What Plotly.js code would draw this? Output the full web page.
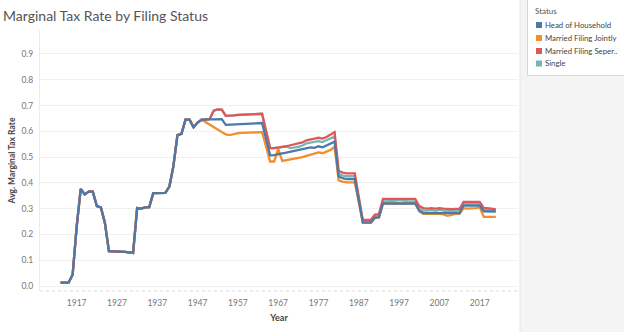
<!DOCTYPE html>
<html>
<head>
<meta charset="utf-8">
<script src="https://cdn.plot.ly/plotly-3.0.1.min.js"></script>
<style>html,body{margin:0;padding:0;background:#fff;}#chart{width:624px;height:332px;}</style>
</head>
<body>
<div id="chart"></div>
<script>
// ---------- DATA ----------
const startYear = 1913;
const endYear = 2021;
const seriesNames = ["Head of Household", "Married Filing Jointly", "Married Filing Seperately", "Single"];
const legendLabels = ["Head of Household", "Married Filing Jointly", "Married Filing Seper..", "Single"];
const seriesColors = ["#4e79a7", "#f28e2b", "#e15759", "#76b7b2"];
const xTickYears = [1917, 1927, 1937, 1947, 1957, 1967, 1977, 1987, 1997, 2007, 2017];
const yTickVals = [0.0, 0.1, 0.2, 0.3, 0.4, 0.5, 0.6, 0.7, 0.8, 0.9];

// values 1913..2021
const headOfHousehold = [
  0.013,0.013,0.013,0.045,0.23,0.377,0.355,0.366,0.366,0.31,          // 1913-1922
  0.305,0.245,0.135,0.134,0.134,0.133,0.132,0.13,0.128,0.302,         // 1923-1932
  0.30,0.305,0.306,0.36,0.36,0.36,0.361,0.386,0.465,0.585,            // 1933-1942
  0.59,0.645,0.645,0.616,0.634,0.645,0.645,0.645,0.646,0.647,         // 1943-1952
  0.647,0.625,0.626,0.627,0.628,0.629,0.63,0.63,0.631,0.632,          // 1953-1962
  0.632,0.57,0.507,0.508,0.51,0.514,0.517,0.521,0.523,0.526,          // 1963-1972
  0.53,0.535,0.538,0.536,0.542,0.538,0.545,0.552,0.56,0.425,          // 1973-1982
  0.418,0.415,0.415,0.415,0.33,0.246,0.246,0.246,0.265,0.266,         // 1983-1992
  0.32,0.32,0.32,0.32,0.32,0.32,0.32,0.32,0.32,0.292,                 // 1993-2002
  0.283,0.283,0.283,0.283,0.283,0.283,0.283,0.283,0.283,0.283,        // 2003-2012
  0.312,0.312,0.312,0.312,0.312,0.29,0.29,0.29,0.289                  // 2013-2021
];
const marriedJointly = [
  0.013,0.013,0.013,0.045,0.23,0.377,0.355,0.366,0.366,0.31,
  0.305,0.245,0.135,0.134,0.134,0.133,0.132,0.13,0.128,0.302,
  0.30,0.305,0.306,0.36,0.36,0.36,0.361,0.386,0.465,0.585,
  0.59,0.645,0.645,0.616,0.634,0.645,0.635,0.625,0.615,0.605,
  0.596,0.588,0.585,0.59,0.593,0.594,0.595,0.595,0.596,0.597,
  0.597,0.54,0.483,0.483,0.532,0.485,0.488,0.49,0.494,0.497,
  0.50,0.505,0.51,0.512,0.518,0.515,0.52,0.528,0.54,0.41,
  0.405,0.402,0.402,0.402,0.325,0.246,0.246,0.246,0.265,0.266,
  0.32,0.32,0.32,0.32,0.32,0.32,0.32,0.32,0.32,0.29,
  0.28,0.28,0.281,0.28,0.28,0.278,0.272,0.276,0.28,0.28,
  0.302,0.30,0.30,0.302,0.305,0.268,0.268,0.268,0.268
];
const marriedSeparately = [
  0.013,0.013,0.013,0.045,0.23,0.377,0.355,0.366,0.366,0.31,
  0.305,0.245,0.135,0.134,0.134,0.133,0.132,0.13,0.128,0.302,
  0.30,0.305,0.306,0.36,0.36,0.36,0.361,0.386,0.465,0.585,
  0.59,0.645,0.645,0.616,0.634,0.645,0.645,0.648,0.68,0.685,
  0.684,0.66,0.66,0.662,0.664,0.665,0.666,0.666,0.667,0.668,
  0.668,0.60,0.535,0.535,0.537,0.54,0.542,0.546,0.55,0.553,
  0.557,0.565,0.57,0.572,0.575,0.572,0.578,0.586,0.597,0.447,
  0.44,0.437,0.437,0.437,0.345,0.256,0.256,0.256,0.277,0.279,
  0.338,0.338,0.338,0.338,0.338,0.338,0.338,0.338,0.338,0.31,
  0.302,0.30,0.302,0.30,0.302,0.30,0.298,0.298,0.299,0.299,
  0.326,0.326,0.326,0.326,0.326,0.303,0.302,0.30,0.297
];
const single = [
  0.013,0.013,0.013,0.045,0.23,0.377,0.355,0.366,0.366,0.31,
  0.305,0.245,0.135,0.134,0.134,0.133,0.132,0.13,0.128,0.302,
  0.30,0.305,0.306,0.36,0.36,0.36,0.361,0.386,0.465,0.585,
  0.59,0.645,0.645,0.616,0.634,0.645,0.645,0.648,0.68,0.685,
  0.684,0.66,0.66,0.662,0.664,0.665,0.666,0.666,0.667,0.668,
  0.668,0.60,0.535,0.535,0.537,0.54,0.542,0.535,0.537,0.54,
  0.545,0.553,0.556,0.558,0.562,0.558,0.565,0.572,0.58,0.435,
  0.428,0.426,0.426,0.426,0.338,0.25,0.25,0.25,0.27,0.272,
  0.328,0.328,0.329,0.33,0.333,0.33,0.329,0.328,0.328,0.30,
  0.292,0.292,0.294,0.292,0.295,0.292,0.29,0.291,0.292,0.292,
  0.318,0.318,0.318,0.318,0.318,0.296,0.295,0.294,0.293
];

// ---------- BUILD ----------
const years = [];
for (let y = startYear; y <= endYear; y++) years.push(y);
const seriesValues = [headOfHousehold, marriedJointly, marriedSeparately, single];

// draw order: Single, Jointly, Separately, Head of Household on top
const drawOrder = [3, 1, 2, 0];
const traces = drawOrder.map(i => ({
  type: 'scatter', mode: 'lines',
  x: years, y: seriesValues[i], name: seriesNames[i],
  line: {color: seriesColors[i], width: 2.3, shape: 'linear'},
  hoverinfo: 'x+y+name', showlegend: false
}));

const W = 624, H = 332;
const M = {l: 40, r: 106, t: 30, b: 41};
const pw = W - M.l - M.r, ph = H - M.t - M.b;
const px = v => (v - M.l) / pw;         // pixel -> paper x
const py = v => (H - M.b - v) / ph;     // pixel -> paper y

const FONT = 'Lato, "Open Sans", sans-serif';
const shapes = [
  // right panel
  {type: 'rect', xref: 'paper', yref: 'paper', x0: px(520), x1: px(626), y0: py(334), y1: py(-2),
   fillcolor: '#f4f4f4', line: {width: 0}, layer: 'below'},
  {type: 'line', xref: 'paper', yref: 'paper', x0: px(520), x1: px(520), y0: py(332), y1: py(0),
   line: {color: '#e4e4e4', width: 1}},
  // legend box
  {type: 'rect', xref: 'paper', yref: 'paper', x0: px(527.5), x1: px(626), y0: py(75.5), y1: py(-1),
   fillcolor: '#ffffff', line: {color: '#d6d6d6', width: 1}},
  // bottom dotted axis line
  {type: 'line', xref: 'paper', yref: 'paper', x0: 0, x1: 1, y0: 0, y1: 0,
   line: {color: '#d9d9d9', width: 1, dash: 'dot'}}
];
const annotations = [
  {xref: 'paper', yref: 'paper', x: px(533), y: py(10.5), xanchor: 'left', yanchor: 'middle',
   text: 'Status', showarrow: false, font: {family: FONT, size: 8, color: '#555'}}
];
const legendRowsY = [25, 38, 51, 63.5];
legendLabels.forEach((lab, i) => {
  shapes.push({type: 'rect', xref: 'paper', yref: 'paper',
    x0: px(536), x1: px(542), y0: py(legendRowsY[i] + 3), y1: py(legendRowsY[i] - 3),
    fillcolor: seriesColors[i], line: {width: 0}});
  annotations.push({xref: 'paper', yref: 'paper', x: px(543), y: py(legendRowsY[i]),
    xanchor: 'left', yanchor: 'middle', text: lab, showarrow: false,
    font: {family: FONT, size: 7.8, color: '#444'}});
});

const layout = {
  width: W, height: H,
  margin: M,
  paper_bgcolor: '#ffffff', plot_bgcolor: '#ffffff',
  showlegend: false,
  font: {family: FONT, size: 9, color: '#666'},
  title: {text: 'Marginal Tax Rate by Filing Status', xref: 'container', yref: 'container',
          x: 3 / W, xanchor: 'left', y: 1 - 16.5 / H, yanchor: 'middle',
          font: {family: FONT, size: 14, color: '#555'}},
  xaxis: {
    range: [1907.9, 2026.5], tickvals: xTickYears, ticktext: xTickYears.map(String),
    showgrid: false, zeroline: false, showline: false, ticks: '', ticklabelstandoff: 5,
    tickfont: {family: FONT, size: 8.5, color: '#777'},
    title: {text: 'Year', standoff: 8, font: {family: FONT, size: 9, color: '#444', weight: 'bold'}}
  },
  yaxis: {
    range: [-0.0194, 0.993], tickvals: yTickVals, ticktext: yTickVals.map(v => v.toFixed(1)),
    showgrid: true, gridcolor: '#f0f0f0', gridwidth: 1, zeroline: false,
    showline: true, linecolor: '#ececec', linewidth: 1, ticks: '', ticklabelstandoff: 4,
    tickfont: {family: FONT, size: 8.5, color: '#777'},
    title: {text: 'Avg. Marginal Tax Rate', standoff: 4, font: {family: FONT, size: 8.5, color: '#444', weight: 'bold'}}
  },
  shapes: shapes,
  annotations: annotations
};

Plotly.newPlot('chart', traces, layout, {displayModeBar: false, staticPlot: true});
</script>
</body>
</html>
